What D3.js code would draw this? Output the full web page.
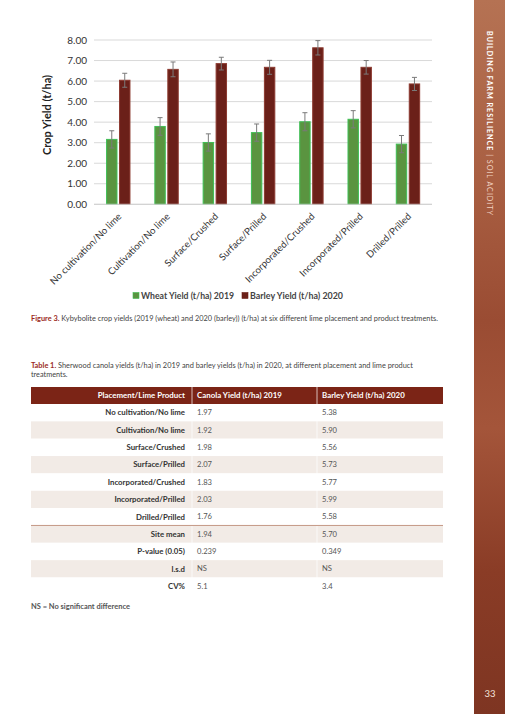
<!DOCTYPE html>
<html><head><meta charset="utf-8">
<script src="https://cdn.jsdelivr.net/npm/d3@7"></script>
<style>body{margin:0;background:#fff}svg{display:block}text{font-family:Lato,"Noto Sans",sans-serif}</style>
</head><body><div id="chart"></div>
<script>
const categories = ["No cultivation/No lime","Cultivation/No lime","Surface/Crushed","Surface/Prilled","Incorporated/Crushed","Incorporated/Prilled","Drilled/Prilled"];
const seriesNames = ["Wheat Yield (t/ha) 2019","Barley Yield (t/ha) 2020"];
const wheat = [3.16,3.79,3.01,3.49,4.02,4.14,2.93];
const barley = [6.04,6.57,6.85,6.67,7.62,6.67,5.86];
const wheatErr = [0.42,0.43,0.42,0.42,0.44,0.42,0.42];
const barleyErr = [0.34,0.36,0.31,0.34,0.35,0.33,0.32];
const yTicks = [0,1,2,3,4,5,6,7,8];

const tableHeader = ["Placement/Lime Product","Canola Yield (t/ha) 2019","Barley Yield (t/ha) 2020"];
const rowLabels = ["No cultivation/No lime","Cultivation/No lime","Surface/Crushed","Surface/Prilled","Incorporated/Crushed","Incorporated/Prilled","Drilled/Prilled","Site mean","P-value (0.05)","l.s.d","CV%"];
const canola2019 = ["1.97","1.92","1.98","2.07","1.83","2.03","1.76","1.94","0.239","NS","5.1"];
const barley2020 = ["5.38","5.90","5.56","5.73","5.77","5.99","5.58","5.70","0.349","NS","3.4"];

const W=505,H=714;
const svg=d3.select("#chart").append("svg").attr("width",W).attr("height",H);

// sidebar
const defs=svg.append("defs");
const g1=defs.append("linearGradient").attr("id","side").attr("x1",0).attr("y1",0).attr("x2",0).attr("y2",1);
[[0,"#b57253"],[0.25,"#a95f42"],[0.45,"#9a4c33"],[0.6,"#a4553a"],[0.8,"#8a3c26"],[1,"#7e3522"]].forEach(s=>g1.append("stop").attr("offset",s[0]).attr("stop-color",s[1]));
svg.append("rect").attr("x",474).attr("y",0).attr("width",31).attr("height",H).attr("fill","url(#side)");
const st=svg.append("text").attr("transform","translate(486.5,31) rotate(90)").attr("font-size",7.2).attr("fill","#fff")
  .attr("textLength",184).attr("lengthAdjust","spacing");
st.append("tspan").attr("font-weight","bold").text("BUILDING FARM RESILIENCE ");
st.append("tspan").attr("fill","#f1d2c2").text("| SOIL ACIDITY");
svg.append("text").attr("x",490).attr("y",697).attr("text-anchor","middle").attr("font-size",9.5).attr("fill","#f3e3da").text("33");

// chart
const y=d3.scaleLinear().domain([0,8]).range([204.3,40]);
const x0=d3.scaleBand().domain(categories).range([94,432]);
const bw=x0.bandwidth();
const x1=d3.scaleBand().domain(seriesNames).range([bw*0.25,bw*0.755]).paddingInner(0.12);
const ch=svg.append("g");
ch.append("g").selectAll("line").data(yTicks).join("line")
  .attr("x1",94).attr("x2",432).attr("y1",d=>y(d)).attr("y2",d=>y(d))
  .attr("stroke","#d9d9d9").attr("stroke-width",1);
const yAxis=d3.axisLeft(y).tickValues(yTicks).tickFormat(d3.format(".2f")).tickSize(0).tickPadding(7);
const ya=ch.append("g").attr("transform","translate(94,0)").call(yAxis);
ya.select(".domain").remove();
ya.selectAll("text").attr("font-size",10).attr("fill","#333").attr("font-family","Lato");
ch.append("text").attr("transform","translate(51,115) rotate(-90)").attr("text-anchor","middle")
  .attr("font-size",11).attr("font-weight","bold").attr("fill","#222").text("Crop Yield (t/ha)");

const series=[{name:seriesNames[0],vals:wheat,err:wheatErr,fill:"#5a9440",stroke:"#3fbf55"},
              {name:seriesNames[1],vals:barley,err:barleyErr,fill:"#6b2019",stroke:"#8c3a30"}];
series.forEach(s=>{
  const gg=ch.append("g");
  gg.selectAll("rect").data(categories).join("rect")
    .attr("x",d=>x0(d)+x1(s.name)+0.5).attr("width",x1.bandwidth()-1)
    .attr("y",(d,i)=>y(s.vals[i])).attr("height",(d,i)=>y(0)-y(s.vals[i]))
    .attr("fill",s.fill).attr("stroke",s.stroke).attr("stroke-width",1);
  const eb=gg.selectAll("g.eb").data(categories).join("g").attr("class","eb");
  const cx=d=>x0(d)+x1(s.name)+x1.bandwidth()/2;
  eb.append("line").attr("x1",cx).attr("x2",cx).attr("y1",(d,i)=>y(s.vals[i]+s.err[i])).attr("y2",(d,i)=>y(s.vals[i]-s.err[i]))
    .attr("stroke","#7a7a7a").attr("stroke-width",1);
  [1,-1].forEach(sg=>eb.append("line").attr("x1",d=>cx(d)-2.5).attr("x2",d=>cx(d)+2.5)
    .attr("y1",(d,i)=>y(s.vals[i]+sg*s.err[i])).attr("y2",(d,i)=>y(s.vals[i]+sg*s.err[i]))
    .attr("stroke","#7a7a7a").attr("stroke-width",1));
});
ch.append("line").attr("x1",94).attr("x2",432).attr("y1",y(0)).attr("y2",y(0)).attr("stroke","#d0d0d0");
ch.append("g").selectAll("text").data(categories).join("text")
  .attr("transform",d=>`translate(${x0(d)+bw/2+2},215) rotate(-45)`)
  .attr("text-anchor","end").attr("dy","0.3em").attr("font-size",9.6).attr("fill","#333").text(d=>d);

// legend
const lg=ch.append("g");
const legItems=[{x:133,c:"#5a9440",s:"#3fbf55",t:seriesNames[0]},{x:242,c:"#6b2019",s:"#6b2019",t:seriesNames[1]}];
legItems.forEach(l=>{
  lg.append("rect").attr("x",l.x).attr("y",292.5).attr("width",6).attr("height",6).attr("fill",l.c).attr("stroke",l.s).attr("stroke-width",0.6);
  lg.append("text").attr("x",l.x+8).attr("y",299).attr("font-size",9.6).attr("font-weight","bold").attr("fill","#444")
    .attr("textLength",93).attr("lengthAdjust","spacingAndGlyphs").text(l.t);
});

// captions
const cap=svg.append("text").attr("x",31).attr("y",321).attr("font-size",7.3).attr("fill","#444")
  .attr("textLength",407).attr("lengthAdjust","spacingAndGlyphs");
cap.append("tspan").attr("font-weight","bold").attr("fill","#9b2a1c").text("Figure 3. ");
cap.append("tspan").text("Kybybolite crop yields (2019 (wheat) and 2020 (barley)) (t/ha) at six different lime placement and product treatments.");
const cap2=svg.append("text").attr("x",31).attr("y",368).attr("font-size",7.3).attr("fill","#444")
  .attr("textLength",382).attr("lengthAdjust","spacingAndGlyphs");
cap2.append("tspan").attr("font-weight","bold").attr("fill","#9b2a1c").text("Table 1. ");
cap2.append("tspan").text("Sherwood canola yields (t/ha) in 2019 and barley yields (t/ha) in 2020, at different placement and lime product");
svg.append("text").attr("x",31).attr("y",377).attr("font-size",7.3).attr("fill","#444").text("treatments.");

// table
const tx0=31,tx1=443,c1=192,c2=317,hy=387,hh=17,rh=17.35;
const tb=svg.append("g");
tb.append("rect").attr("x",tx0).attr("y",hy).attr("width",tx1-tx0).attr("height",hh).attr("fill","#7b2416");
tb.selectAll("rect.row").data(rowLabels).join("rect").attr("class","row")
  .attr("x",tx0).attr("y",(d,i)=>hy+hh+i*rh).attr("width",tx1-tx0).attr("height",rh)
  .attr("fill",(d,i)=>i%2?"#f2ebe6":"#fff");
[c1,c2].forEach(cx=>tb.append("line").attr("x1",cx).attr("x2",cx).attr("y1",hy).attr("y2",hy+hh+rowLabels.length*rh).attr("stroke","#fff").attr("stroke-opacity",0.7).attr("stroke-width",1));
tb.append("line").attr("x1",tx0).attr("x2",tx1).attr("y1",hy+hh+7*rh).attr("y2",hy+hh+7*rh).attr("stroke","#c49784").attr("stroke-width",1);
const hx=[185,197,322],anchors=["end","start","start"];
tableHeader.forEach((t,i)=>tb.append("text").attr("x",hx[i]).attr("y",hy+hh/2).attr("dy","0.35em")
  .attr("text-anchor",anchors[i]).attr("font-size",7.9).attr("font-weight","bold").attr("fill","#fff").text(t));
rowLabels.forEach((r,i)=>{
  const cy=hy+hh+i*rh+rh/2;
  tb.append("text").attr("x",185).attr("y",cy).attr("dy","0.35em").attr("text-anchor","end").attr("font-size",7.8).attr("font-weight","bold").attr("fill","#333").text(r);
  tb.append("text").attr("x",197).attr("y",cy).attr("dy","0.35em").attr("font-size",7.6).attr("fill","#555").text(canola2019[i]);
  tb.append("text").attr("x",322).attr("y",cy).attr("dy","0.35em").attr("font-size",7.6).attr("fill","#555").text(barley2020[i]);
});
svg.append("text").attr("x",31).attr("y",609).attr("font-size",7.3).attr("font-weight","bold").attr("fill","#555")
  .attr("textLength",99).attr("lengthAdjust","spacingAndGlyphs").text("NS = No significant difference");
</script></body></html>
